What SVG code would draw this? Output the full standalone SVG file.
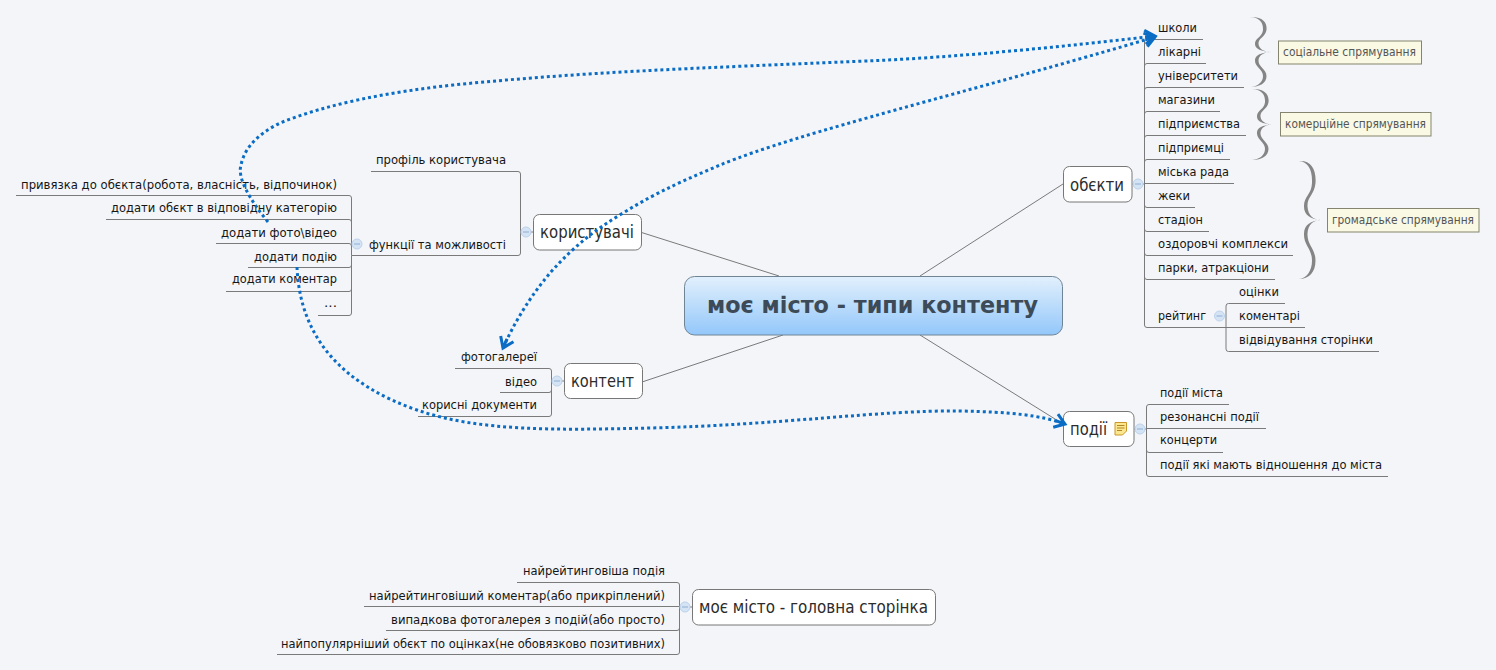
<svg xmlns="http://www.w3.org/2000/svg" xmlns:xlink="http://www.w3.org/1999/xlink" width="1496" height="670" viewBox="0 0 1496 670">
<style>
text{font-family:"DejaVu Sans","Liberation Sans",sans-serif;fill:#151515;font-size:12.5px}
.n{font-size:18px;fill:#2c2c2c}
.c{fill:#555;font-size:12px}
.root{font-size:23px;font-weight:bold;fill:#3d4a57}
.box{fill:#fff;stroke:#777;stroke-width:1}
.call{fill:#f9f9e4;stroke:#85856f;stroke-width:1}
.l{fill:none;stroke:#7a7a7a;stroke-width:1}
.rel{fill:none;stroke:#0b6cc4;stroke-width:3;stroke-dasharray:3 3}
.tg{fill:#d5e4f5;stroke:#bcd2ea;stroke-width:1}
.tm{stroke:#8eaed2;stroke-width:1;fill:none}
.br{fill:#858585}
</style>
<defs>
<linearGradient id="rootfill" x1="0" y1="0" x2="0" y2="1"><stop offset="0" stop-color="#e2f0fc"/><stop offset="1" stop-color="#93c7fa"/></linearGradient>
<marker id="head" markerUnits="userSpaceOnUse" markerWidth="24" markerHeight="24" refX="12" refY="12" orient="auto-start-reverse" viewBox="0 0 24 24"><path d="M2 5L12 12L2 19M2 12H12" fill="none" stroke="#0b6cc4" stroke-width="3"/></marker>
<path id="brace" d="M0 0C12-.5 17.5 5 16.5 13C15.5 20 8 21 8.5 27C9 32 14 35 22 35C14 35 9 38 8.5 43C8 50 16.5 52 16.5 59C16.5 66 10 70 0 70C8 69.5 13 65 13 59C13 52 4.5 50 5 43C5.3 38 11 35.5 22 35C11 34.5 5 32 5 27C4.7 21 12.5 20 13 13C13.5 5 9 .5 0 0Z"/>
<g id="tog"><circle r="5" class="tg"/><path d="M-3 0H3" class="tm"/></g>
</defs>
<rect width="1496" height="670" fill="#f3f5f9"/>
<g id="connectors">
<path class="l" d="M640 232L779 276M642 382L783 335M920 276L1063 184M920 335L1063 424"/>
<path class="l" d="M1132 184H1144.5V42Q1144.5 39.5 1147 39.5H1203M1144.5 66Q1144.5 63.5 1147 63.5H1206M1144.5 90Q1144.5 87.5 1147 87.5H1244M1144.5 114Q1144.5 111.5 1147 111.5H1220M1144.5 138Q1144.5 135.5 1147 135.5H1246M1144.5 162Q1144.5 159.5 1147 159.5H1230M1144.5 183.5H1234M1144.5 205Q1144.5 207.5 1147 207.5H1195M1144.5 229Q1144.5 231.5 1147 231.5H1209M1144.5 253Q1144.5 255.5 1147 255.5H1293M1144.5 277Q1144.5 279.5 1147 279.5H1275M1144.5 184V325Q1144.5 327.5 1147 327.5H1305"/>
<path class="l" d="M1226 327.5V306Q1226 303.5 1228.5 303.5H1285M1226 327.5V349Q1226 351.5 1228.5 351.5H1379"/>
<path class="l" d="M1134 429H1146.5V407Q1146.5 404.5 1149 404.5H1229M1146.5 428.5H1266M1146.5 450Q1146.5 452.5 1149 452.5H1223M1146.5 429V474Q1146.5 476.5 1149 476.5H1388"/>
<path class="l" d="M533 232H520.5V174Q520.5 171.5 518 171.5H371M520.5 232V253Q520.5 255.5 518 255.5H351.5"/>
<path class="l" d="M351.5 255.5V198Q351.5 195.5 349 195.5H16M351.5 222Q351.5 219.5 349 219.5H106M351.5 246Q351.5 243.5 349 243.5H216M351.5 265Q351.5 267.5 349 267.5H248M351.5 289Q351.5 291.5 349 291.5H226M351.5 255.5V313Q351.5 315.5 349 315.5H318"/>
<path class="l" d="M564.5 381H551.5V371Q551.5 368.5 549 368.5H455M551.5 390Q551.5 392.5 549 392.5H500M551.5 381V414Q551.5 416.5 549 416.5H418"/>
<path class="l" d="M692 607H679.5V585Q679.5 582.5 677 582.5H517M679.5 606.5H364M679.5 628Q679.5 630.5 677 630.5H386M679.5 607V652Q679.5 654.5 677 654.5H277"/>
</g>
<g id="root"><rect x="684.5" y="276.5" width="378" height="58.5" rx="10" fill="url(#rootfill)" stroke="#6f8494"/><text class="root" x="707" y="313" textLength="331" lengthAdjust="spacingAndGlyphs">моє місто - типи контенту</text></g>
<g id="obiekty"><rect class="box" x="1063.5" y="166.5" width="68.5" height="35.5" rx="6"/><text class="n" x="1070" y="190.500" textLength="54" lengthAdjust="spacingAndGlyphs">обєкти</text><use xlink:href="#tog" href="#tog" x="1138" y="184"/></g>
<g id="podii"><rect class="box" x="1063.5" y="411.5" width="70.5" height="35" rx="6"/><text class="n" x="1070" y="435" textLength="37" lengthAdjust="spacingAndGlyphs">події</text><path d="M1115 422.5H1126.5V431L1122.5 435H1115Z" fill="#fbe88e" stroke="#c9962a"/><path d="M1117 425.500H1124.500M1117 428H1124.500M1117 430.500H1122" stroke="#b08428" stroke-width="1"/><use xlink:href="#tog" href="#tog" x="1140" y="429"/></g>
<g id="korystuvachi"><rect class="box" x="533.500" y="214.500" width="108" height="35.500" rx="6"/><text class="n" x="540" y="238" textLength="94" lengthAdjust="spacingAndGlyphs">користувачі</text><use xlink:href="#tog" href="#tog" x="526" y="232"/></g>
<g id="kontent"><rect class="box" x="564.500" y="363.500" width="78" height="35" rx="6"/><text class="n" x="571" y="386.500" textLength="63" lengthAdjust="spacingAndGlyphs">контент</text><use xlink:href="#tog" href="#tog" x="557" y="381"/></g>
<g id="holovna"><rect class="box" x="692.500" y="589.500" width="243" height="35.500" rx="6"/><text class="n" x="699" y="612.500" textLength="229" lengthAdjust="spacingAndGlyphs">моє місто - головна сторінка</text><use xlink:href="#tog" href="#tog" x="685" y="607"/></g>
<g id="t-shkoly"><text x="1158" y="32" textLength="39" lengthAdjust="spacingAndGlyphs">школи</text></g>
<g id="t-likarni"><text x="1158" y="56" textLength="43" lengthAdjust="spacingAndGlyphs">лікарні</text></g>
<g id="t-univ"><text x="1158" y="80" textLength="80" lengthAdjust="spacingAndGlyphs">університети</text></g>
<g id="t-mahazyny"><text x="1158" y="104" textLength="57" lengthAdjust="spacingAndGlyphs">магазини</text></g>
<g id="t-pidpr"><text x="1158" y="128" textLength="82" lengthAdjust="spacingAndGlyphs">підприємства</text></g>
<g id="t-pidpr2"><text x="1158" y="152" textLength="66" lengthAdjust="spacingAndGlyphs">підприємці</text></g>
<g id="t-rada"><text x="1158" y="176" textLength="71" lengthAdjust="spacingAndGlyphs">міська рада</text></g>
<g id="t-zheky"><text x="1158" y="200" textLength="32" lengthAdjust="spacingAndGlyphs">жеки</text></g>
<g id="t-stadion"><text x="1158" y="224" textLength="45" lengthAdjust="spacingAndGlyphs">стадіон</text></g>
<g id="t-ozd"><text x="1158" y="248" textLength="130" lengthAdjust="spacingAndGlyphs">оздоровчі комплекси</text></g>
<g id="t-parky"><text x="1158" y="272" textLength="111" lengthAdjust="spacingAndGlyphs">парки, атракціони</text></g>
<g id="t-reiting"><text x="1158" y="320" textLength="48" lengthAdjust="spacingAndGlyphs">рейтинг</text><use xlink:href="#tog" href="#tog" x="1219.500" y="316"/></g>
<g id="t-otsinky"><text x="1239" y="296" textLength="40" lengthAdjust="spacingAndGlyphs">оцінки</text></g>
<g id="t-koment"><text x="1239" y="320" textLength="61" lengthAdjust="spacingAndGlyphs">коментарі</text></g>
<g id="t-vidv"><text x="1239" y="344" textLength="134" lengthAdjust="spacingAndGlyphs">відвідування сторінки</text></g>
<g id="t-p1"><text x="1160" y="397" textLength="63" lengthAdjust="spacingAndGlyphs">події міста</text></g>
<g id="t-p2"><text x="1160" y="421" textLength="99" lengthAdjust="spacingAndGlyphs">резонансні події</text></g>
<g id="t-p3"><text x="1160" y="444" textLength="57" lengthAdjust="spacingAndGlyphs">концерти</text></g>
<g id="t-p4"><text x="1160" y="469" textLength="222" lengthAdjust="spacingAndGlyphs">події які мають відношення до міста</text></g>
<g id="t-profil"><text x="376" y="164" textLength="130" lengthAdjust="spacingAndGlyphs">профіль користувача</text></g>
<g id="t-funk"><text x="369" y="248.500" textLength="137" lengthAdjust="spacingAndGlyphs">функції та можливості</text><use xlink:href="#tog" href="#tog" x="357" y="244"/></g>
<g id="t-l1"><text x="21" y="188.500" textLength="316" lengthAdjust="spacingAndGlyphs">привязка до обєкта(робота, власність, відпочинок)</text></g>
<g id="t-l2"><text x="111" y="212" textLength="226" lengthAdjust="spacingAndGlyphs">додати обєкт в відповідну категорію</text></g>
<g id="t-l3"><text x="221" y="236.500" textLength="116" lengthAdjust="spacingAndGlyphs">додати фото\відео</text></g>
<g id="t-l4"><text x="254" y="260.500" textLength="83" lengthAdjust="spacingAndGlyphs">додати подію</text></g>
<g id="t-l5"><text x="232" y="283" textLength="105" lengthAdjust="spacingAndGlyphs">додати коментар</text></g>
<g id="t-l6"><text x="324" y="307" textLength="13" lengthAdjust="spacingAndGlyphs">...</text></g>
<g id="t-k1"><text x="461" y="361" textLength="76" lengthAdjust="spacingAndGlyphs">фотогалереї</text></g>
<g id="t-k2"><text x="505" y="385.500" textLength="32" lengthAdjust="spacingAndGlyphs">відео</text></g>
<g id="t-k3"><text x="422" y="409" textLength="115" lengthAdjust="spacingAndGlyphs">корисні документи</text></g>
<g id="t-h1"><text x="523" y="575" textLength="142" lengthAdjust="spacingAndGlyphs">найрейтинговіша подія</text></g>
<g id="t-h2"><text x="369" y="600" textLength="296" lengthAdjust="spacingAndGlyphs">найрейтинговіший коментар(або прикріплений)</text></g>
<g id="t-h3"><text x="391" y="624" textLength="274" lengthAdjust="spacingAndGlyphs">випадкова фотогалерея з подій(або просто)</text></g>
<g id="t-h4"><text x="281" y="648" textLength="384" lengthAdjust="spacingAndGlyphs">найпопулярніший обєкт по оцінках(не обовязково позитивних)</text></g>
<g id="b-soc"><use xlink:href="#brace" href="#brace" class="br" transform="translate(1250 17)"/><rect class="call" x="1278.500" y="41" width="143" height="23"/><text class="c" x="1283" y="56" textLength="133" lengthAdjust="spacingAndGlyphs">соціальне спрямування</text></g>
<g id="b-kom"><use xlink:href="#brace" href="#brace" class="br" transform="translate(1252 89) scale(1 1.014)"/><rect class="call" x="1280.500" y="112.500" width="150.500" height="23.500"/><text class="c" x="1285" y="128" textLength="141" lengthAdjust="spacingAndGlyphs">комерційне спрямування</text></g>
<g id="b-hrom"><use xlink:href="#brace" href="#brace" class="br" transform="translate(1299 161) scale(1 1.686)"/><rect class="call" x="1327.500" y="208.500" width="151.500" height="23.500"/><text class="c" x="1332" y="224" textLength="142" lengthAdjust="spacingAndGlyphs">громадське спрямування</text></g>
<g id="relationships">
<path class="rel" d="M268 222C250 200 237 178 241 165C245 145 262 132 280 123C330 103 390 92 453 85C580 72 700 68 867 61C960 57 1060 47 1155 36" marker-end="url(#head)"/>
<path class="rel" d="M503 348C520 310 540 285 550 273C575 245 595 230 623 213C660 190 690 178 720 165C800 132 970 92 1155 37" marker-start="url(#head)" marker-end="url(#head)"/>
<path class="rel" d="M297 267C300 340 345 385 417 410C480 432 560 430 650 428C780 425 880 410 960 411C1010 412 1040 415 1065 424" marker-end="url(#head)"/>
</g>
</svg>
